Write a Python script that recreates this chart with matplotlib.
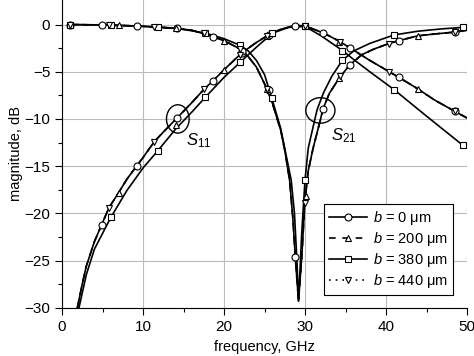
import matplotlib
matplotlib.use('Agg')
import matplotlib.pyplot as plt
from matplotlib.patches import Ellipse

plt.rcParams['font.family'] = ['Liberation Sans', 'DejaVu Sans']
plt.rcParams['mathtext.fontset'] = 'custom'
plt.rcParams['mathtext.rm'] = 'Liberation Sans'
plt.rcParams['mathtext.it'] = 'Liberation Sans:italic'

# curves (b = 0, 200, 440 um lie nearly on top of each other)
f11 = [1.9, 2.5, 3, 4, 4.9, 5.8, 7, 8, 9.2, 10, 11.4, 12.5, 14.2, 16, 17.6, 18.6, 20, 22.2,
       24, 25.5, 27, 28.8, 30, 32.3, 34.3, 35.6, 38, 40.4, 41.6, 43.9, 46, 48.5, 50]
s11 = [-30, -27.5, -25.6, -23, -21.2, -19.4, -17.8, -16.4, -15.0, -14.1, -12.4, -11.4, -9.9, -8.3,
       -6.8, -6.0, -4.8, -3.0, -1.9, -1.1, -0.5, -0.1, -0.15, -0.9, -1.8, -2.5, -3.8, -5.0, -5.6,
       -6.8, -8.0, -9.2, -9.9]
f21 = [1, 5, 9.2, 12, 14, 16, 18, 20, 22, 23, 24, 25.3, 26, 27, 27.5, 28.1, 28.5, 28.8, 29.2,
       29.6, 30.0, 30.4, 31.0, 31.9, 32.2, 33, 34.2, 35.5, 37, 38.5, 40.4, 41.6, 43.9, 46, 48.5, 50]
s21 = [0, -0.05, -0.15, -0.3, -0.4, -0.6, -1.1, -1.7, -2.6, -3.4, -4.5, -6.8, -8.4, -11.2, -13.3,
       -16.5, -20.5, -24.6, -29.3, -24.6, -18.6, -15.5, -13.1, -10.1, -9.0, -7.3, -5.7, -4.3, -3.2,
       -2.6, -2.0, -1.7, -1.2, -1.0, -0.8, -0.6]

# b = 380 um
f11_380 = [2.1, 3, 4, 6.05, 8, 10, 11.8, 14.1, 16, 17.7, 20, 22, 24, 26, 28, 30, 32, 34.7, 36, 38,
           41, 45, 49.5, 50]
s11_380 = [-30, -26.5, -23.8, -20.4, -17.6, -15.2, -13.4, -11.0, -9.3, -7.7, -5.6, -4.0, -2.4, -0.9,
           -0.3, -0.2, -1.2, -2.8, -3.7, -5.0, -6.9, -9.7, -12.8, -13.1]
f21_380 = [1, 6, 11.8, 14.1, 17.7, 20, 22, 23, 24, 25, 25.9, 27, 28.3, 28.7, 29.0, 29.2, 29.6, 30.0,
           30.4, 31.2, 31.5, 32.3, 33.3, 34.6, 36, 38, 41, 44, 47, 49.5, 50]
s21_380 = [0, -0.05, -0.25, -0.4, -0.9, -1.5, -2.2, -2.8, -3.8, -5.3, -7.8, -11.0, -16.5, -20.0, -25.0,
           -29.3, -22.0, -16.5, -13.1, -10.1, -9.0, -7.2, -5.5, -3.8, -2.8, -2.0, -1.1, -0.7, -0.45,
           -0.3, -0.3]

# marker positions per series: (freq, S11, S21)
mk_f0 = [1, 4.9, 9.2, 14.2, 18.6, 22.2, 25.5, 28.8, 32.2, 35.5, 41.6, 48.5]
mk_s11_0 = [None, -21.2, -15.0, -9.9, -6.0, -3.0, -1.1, -0.15, -0.9, -2.5, -5.6, -9.2]
mk_s21_0 = [0, -0.05, -0.15, -0.4, -1.3, -2.8, -6.9, -24.6, -9.0, -4.3, -1.7, -0.8]

mk_f200 = [1, 7, 14.1, 20, 25.3, 30.1, 34.2, 43.9]
mk_s11_200 = [None, -17.8, -10.6, -4.8, -1.2, -0.15, -1.9, -6.8]
mk_s21_200 = [0, -0.1, -0.4, -1.7, -6.8, -18.2, -5.7, -1.2]

mk_f380 = [1, 6.05, 11.8, 17.7, 22, 25.9, 30.0, 34.6, 41, 49.5]
mk_s11_380 = [None, -20.4, -13.4, -7.7, -4.0, -0.9, -0.2, -2.8, -6.9, -12.8]
mk_s21_380 = [0, -0.05, -0.25, -0.9, -2.2, -7.8, -16.5, -3.8, -1.1, -0.3]

mk_f440 = [1, 5.8, 11.4, 17.5, 22, 25.3, 30.0, 34.3, 40.4, 48.5]
mk_s11_440 = [None, -19.4, -12.4, -6.8, -3.2, -1.2, -0.15, -1.8, -5.0, -9.2]
mk_s21_440 = [0, -0.05, -0.3, -0.9, -2.6, -6.8, -18.9, -5.4, -2.1, -0.8]

labels = ['0', '200', '380', '440']

fig = plt.figure(figsize=(4.74, 3.56), dpi=100)
ax = fig.add_axes([62 / 474, 48.3 / 356, 405 / 474, 307.7 / 356])

series = [
    (f11, s11, f21, s21, mk_f0, mk_s11_0, mk_s21_0, 'o', '-'),
    (f11, s11, f21, s21, mk_f200, mk_s11_200, mk_s21_200, '^', (0, (4, 4))),
    (f11_380, s11_380, f21_380, s21_380, mk_f380, mk_s11_380, mk_s21_380, 's', '-'),
    (f11, s11, f21, s21, mk_f440, mk_s11_440, mk_s21_440, 'v', (0, (1, 3))),
]

handles = []
for (a, b, c, d, mf, m11, m21, mk, ls), lab in zip(series, labels):
    ax.plot(a, b, color='black', lw=1.2, ls=ls, zorder=3)
    ax.plot(c, d, color='black', lw=1.2, ls=ls, zorder=3)
    x11 = [x for x, y in zip(mf, m11) if y is not None]
    y11 = [y for y in m11 if y is not None]
    kw = dict(ls='none', marker=mk, ms=5, mfc='white', mec='black', mew=0.8, zorder=4)
    ax.plot(x11, y11, **kw)
    ax.plot(mf, m21, **kw)
    h, = ax.plot([], [], color='black', lw=1.2, ls=ls, marker=mk, ms=5, mfc='white',
                 mec='black', mew=0.8, label=r'$b$ = ' + lab + ' \u03bcm')
    handles.append(h)

ax.add_patch(Ellipse((14.3, -10.0), 2.8, 3.0, fill=False, lw=1.0, color='black', zorder=5))
ax.add_patch(Ellipse((31.9, -9.1), 3.6, 2.7, fill=False, lw=1.0, color='black', zorder=5))
ax.text(15.3, -12.8, r'$S_{11}$', fontsize=12)
ax.text(33.2, -12.3, r'$S_{21}$', fontsize=12)

ax.set_xlim(0, 50)
ax.set_ylim(-30, 2.6)
ax.set_xticks([0, 10, 20, 30, 40, 50])
ax.set_xticks([5, 15, 25, 35, 45], minor=True)
ax.set_yticks([-30, -25, -20, -15, -10, -5, 0])
ax.set_yticks([-27.5, -22.5, -17.5, -12.5, -7.5, -2.5], minor=True)
ax.set_yticklabels(['\u221230', '\u221225', '\u221220', '\u221215', '\u221210', '\u22125', '0'])
ax.tick_params(labelsize=11, length=5, width=0.8)
ax.tick_params(which='minor', length=3, width=0.8)
ax.grid(True, color='#bbbbbb', lw=0.8)
ax.spines['top'].set_visible(False)
ax.spines['right'].set_visible(False)
ax.set_xlabel('frequency, GHz', fontsize=10.5, labelpad=5)
ax.set_ylabel('magnitude, dB', fontsize=10.5, labelpad=1)

leg = ax.legend(handles=handles, loc='lower right', bbox_to_anchor=(0.965, 0.041),
                borderaxespad=0, fontsize=10.5, handlelength=2.6, fancybox=False,
                framealpha=1, edgecolor='black', labelspacing=0.2, borderpad=0.35,
                handletextpad=0.4)
leg.get_frame().set_linewidth(0.8)
leg.set_zorder(6)

fig.savefig('out.png', dpi=100)
